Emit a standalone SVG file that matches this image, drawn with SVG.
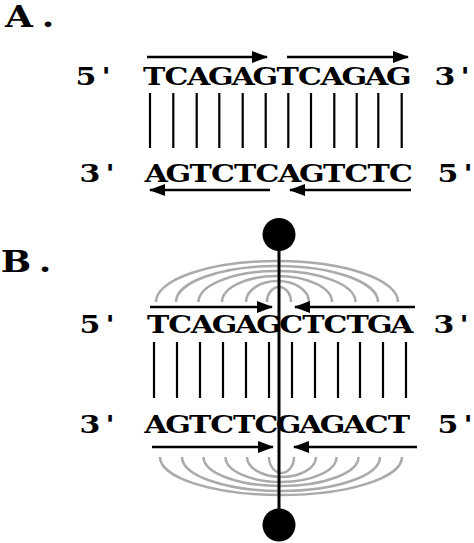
<svg xmlns="http://www.w3.org/2000/svg" width="474" height="543" viewBox="0 0 474 543">
<style>
.lbl{font-family:"DejaVu Serif","Liberation Serif",serif;font-weight:bold;font-size:30px;fill:#000;text-anchor:middle}
.seq{font-family:"DejaVu Serif","Liberation Serif",serif;font-weight:bold;font-size:25px;fill:#000;text-anchor:middle}
.bp{stroke:#000;stroke-width:2.2}
.arr{stroke:#000;stroke-width:2.5;fill:none}
.arc{stroke:#aaaaaa;stroke-width:2.5;fill:none}
</style>
<defs>
<marker id="ah" markerUnits="userSpaceOnUse" markerWidth="16" markerHeight="12" viewBox="0 0 16 12" refX="15" refY="6" orient="auto">
<path d="M0,0 L16,6 L0,12 Z" fill="#000"/>
</marker>
</defs>
<rect width="474" height="543" fill="#fff"/>
<g id="panelA">
<text class="lbl" transform="scale(1.2,1)" x="15.83 40" y="27">A.</text>
<g id="A-top-strand" transform="scale(1.2,1)">
<text class="seq" x="71.67 88.33" y="85">5'</text>
<text class="seq" x="128.42 147 165.5 184.08 202.58 221.17 239.67 258.25 276.75 295.33 313.83 332.42" y="85">TCAGAGTCAGAG</text>
<text class="seq" x="370.83 387.5" y="85">3'</text>
</g>
<g id="A-bottom-strand" transform="scale(1.2,1)">
<text class="seq" x="75 91.67" y="182">3'</text>
<text class="seq" x="130.08 148.67 167.17 185.75 204.25 222.83 241.33 259.92 278.42 297 315.5 334.08" y="182">AGTCTCAGTCTC</text>
<text class="seq" x="373.33 390" y="182">5'</text>
</g>
<g id="A-pairs" class="bp">
<line x1="150" y1="93" x2="150" y2="148"/>
<line x1="173.3" y1="93" x2="173.3" y2="148"/>
<line x1="196.7" y1="93" x2="196.7" y2="148"/>
<line x1="219.3" y1="93" x2="219.3" y2="148"/>
<line x1="242.7" y1="93" x2="242.7" y2="148"/>
<line x1="265.7" y1="93" x2="265.7" y2="148"/>
<line x1="288.3" y1="93" x2="288.3" y2="148"/>
<line x1="311" y1="93" x2="311" y2="148"/>
<line x1="334.3" y1="93" x2="334.3" y2="148"/>
<line x1="356.7" y1="93" x2="356.7" y2="148"/>
<line x1="378.3" y1="93" x2="378.3" y2="148"/>
<line x1="401.7" y1="93" x2="401.7" y2="148"/>
</g>
<g id="A-arrows" class="arr">
<line x1="147" y1="57" x2="267" y2="57" marker-end="url(#ah)"/>
<line x1="287" y1="57" x2="408" y2="57" marker-end="url(#ah)"/>
<line x1="270" y1="190" x2="150" y2="190" marker-end="url(#ah)"/>
<line x1="411" y1="190" x2="290" y2="190" marker-end="url(#ah)"/>
</g>
</g>
<g id="panelB">
<text class="lbl" transform="scale(1.2,1)" x="13.33 37.5" y="272">B.</text>
<g id="B-arcs-top" class="arc">
<path d="M156,302 A121,41 0 0 1 398,302"/>
<path d="M176,302 A101,36 0 0 1 378,302"/>
<path d="M198.5,302 A78.5,31 0 0 1 355.5,302"/>
<path d="M222,302 A55,26 0 0 1 332,302"/>
<path d="M246,302 A31.5,21 0 0 1 309,302"/>
<path d="M267,302 A12,15 0 0 1 291,302"/>
</g>
<g id="B-arcs-bottom" class="arc">
<path d="M160,457 A121,38 0 0 0 402,457"/>
<path d="M182,457 A99,34 0 0 0 380,457"/>
<path d="M203.5,457 A77.5,29 0 0 0 358.5,457"/>
<path d="M225.5,457 A55.5,25 0 0 0 336.5,457"/>
<path d="M247,457 A34.5,20 0 0 0 316,457"/>
<path d="M269,457 A12.5,16 0 0 0 294,457"/>
</g>
<g id="B-top-strand" transform="scale(1.2,1)">
<text class="seq" x="75 91.67" y="333">5'</text>
<text class="seq" x="131.75 150.25 168.67 187.17 205.67 224.17 242.58 261.08 279.58 298 316.5 335" y="333">TCAGAGCTCTGA</text>
<text class="seq" x="370 386.67" y="333">3'</text>
</g>
<g id="B-bottom-strand" transform="scale(1.2,1)">
<text class="seq" x="75 91.67" y="433">3'</text>
<text class="seq" x="130 148.42 166.83 185.17 203.58 222 240.42 258.83 277.17 295.58 314 332.42" y="433">AGTCTCGAGACT</text>
<text class="seq" x="373.33 390" y="433">5'</text>
</g>
<g id="B-pairs" class="bp">
<line x1="154" y1="342" x2="154" y2="398"/>
<line x1="177" y1="342" x2="177" y2="398"/>
<line x1="200" y1="342" x2="200" y2="398"/>
<line x1="223" y1="342" x2="223" y2="398"/>
<line x1="246" y1="342" x2="246" y2="398"/>
<line x1="269" y1="342" x2="269" y2="398"/>
<line x1="292" y1="342" x2="292" y2="398"/>
<line x1="315" y1="342" x2="315" y2="398"/>
<line x1="338" y1="342" x2="338" y2="398"/>
<line x1="360" y1="342" x2="360" y2="398"/>
<line x1="383" y1="342" x2="383" y2="398"/>
<line x1="406" y1="342" x2="406" y2="398"/>
</g>
<g id="B-arrows" class="arr">
<line x1="150" y1="307" x2="272" y2="307" marker-end="url(#ah)"/>
<line x1="415" y1="307" x2="295" y2="307" marker-end="url(#ah)"/>
<line x1="152" y1="447" x2="273" y2="447" marker-end="url(#ah)"/>
<line x1="417" y1="447" x2="294" y2="447" marker-end="url(#ah)"/>
</g>
<g id="B-axis">
<line x1="279" y1="235" x2="279" y2="525" stroke="#000" stroke-width="3"/>
<circle cx="279" cy="234.5" r="16.5" fill="#000"/>
<circle cx="279" cy="525" r="16.5" fill="#000"/>
</g>
</g>
</svg>
